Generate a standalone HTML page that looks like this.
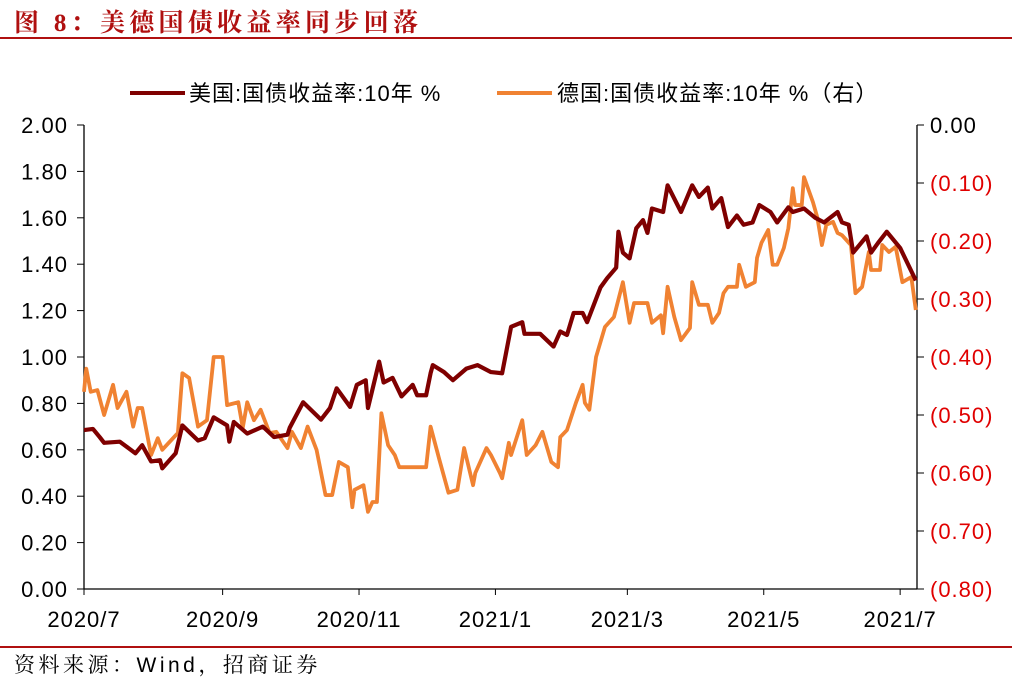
<!DOCTYPE html>
<html><head><meta charset="utf-8">
<style>
body{margin:0;background:#fff;width:1012px;height:675px;overflow:hidden;font-family:"Liberation Sans","Noto Sans CJK SC",sans-serif;}
#title{position:absolute;left:14px;top:3px;font-size:25px;font-weight:bold;color:#b01010;font-family:"Liberation Serif","Noto Serif CJK SC",serif;letter-spacing:4.3px}
#src{position:absolute;left:14px;top:649px;font-size:21px;color:#000;font-family:"Liberation Sans","Noto Serif CJK SC",serif;letter-spacing:3.5px}
svg text{letter-spacing:1px}
</style></head><body>
<div id="title">图 8：美德国债收益率同步回落</div>
<div style="position:absolute;left:0;top:37px;width:1012px;height:2px;background:#b01010"></div>
<div style="position:absolute;left:0;top:646px;width:1012px;height:2px;background:#b01010"></div>
<div id="src">资料来源：Wind，招商证券</div>
<svg id="chart" width="1012" height="675" style="position:absolute;left:0;top:0"></svg>
<script>
const usDays=[0,4,7,9,16,23,26,30,34,35,41,44,51,54,58,64,65,67,73,80,85,91,92,98,106,110,113,119,122,126,127,132,134,138,142,147,149,153,155,156,161,165,171,176,182,187,191,196,197,204,210,213,216,219,223,225,231,234,238,239,241,244,247,250,252,254,259,261,267,272,275,279,281,285,288,292,295,299,302,307,310,315,317,322,327,331,337,339,342,344,350,352,355,359,365,372];
const usVals=[0.685,0.69,0.655,0.63,0.635,0.585,0.62,0.55,0.555,0.52,0.585,0.705,0.64,0.65,0.74,0.705,0.635,0.72,0.67,0.70,0.655,0.665,0.695,0.805,0.73,0.78,0.865,0.785,0.88,0.90,0.78,0.98,0.89,0.91,0.83,0.88,0.835,0.835,0.93,0.965,0.935,0.90,0.95,0.965,0.935,0.93,1.13,1.15,1.10,1.10,1.045,1.11,1.095,1.19,1.19,1.15,1.30,1.34,1.385,1.54,1.45,1.425,1.555,1.59,1.535,1.64,1.625,1.74,1.625,1.74,1.69,1.73,1.64,1.685,1.56,1.61,1.57,1.58,1.655,1.625,1.58,1.645,1.625,1.64,1.60,1.58,1.625,1.58,1.57,1.45,1.52,1.45,1.49,1.54,1.47,1.33];
const deDays=[0,1,3,6,9,13,15,19,22,24,26,30,33,35,42,44,47,51,55,58,62,64,69,71,73,76,79,83,86,91,93,97,100,104,108,111,113,114,118,120,121,125,127,129,131,133,136,139,141,153,155,159,163,167,170,174,175,180,182,186,187,190,191,196,198,202,205,209,212,213,216,220,223,224,226,229,233,237,241,244,246,252,254,258,259,261,264,267,271,272,275,279,281,284,286,288,292,293,296,300,301,303,306,308,310,313,315,317,318,321,322,326,328,330,332,335,337,339,343,345,348,351,352,356,357,360,363,366,370,372];
const deVals=[-0.46,-0.42,-0.46,-0.457,-0.50,-0.448,-0.488,-0.46,-0.52,-0.488,-0.488,-0.569,-0.54,-0.56,-0.531,-0.428,-0.436,-0.52,-0.509,-0.40,-0.40,-0.483,-0.478,-0.522,-0.478,-0.509,-0.491,-0.531,-0.529,-0.557,-0.529,-0.557,-0.52,-0.56,-0.638,-0.638,-0.60,-0.581,-0.59,-0.659,-0.629,-0.621,-0.667,-0.65,-0.65,-0.497,-0.552,-0.569,-0.59,-0.59,-0.52,-0.578,-0.634,-0.629,-0.557,-0.621,-0.60,-0.557,-0.569,-0.60,-0.609,-0.548,-0.569,-0.509,-0.569,-0.552,-0.529,-0.581,-0.59,-0.538,-0.526,-0.479,-0.448,-0.479,-0.491,-0.40,-0.348,-0.331,-0.271,-0.341,-0.307,-0.307,-0.341,-0.328,-0.359,-0.279,-0.331,-0.371,-0.35,-0.271,-0.31,-0.31,-0.341,-0.324,-0.29,-0.279,-0.279,-0.241,-0.279,-0.271,-0.229,-0.203,-0.181,-0.241,-0.241,-0.212,-0.178,-0.109,-0.138,-0.138,-0.09,-0.133,-0.16,-0.207,-0.172,-0.167,-0.186,-0.19,-0.207,-0.29,-0.279,-0.219,-0.25,-0.25,-0.207,-0.219,-0.21,-0.271,-0.262,-0.319];
const leftTicks=[0,0.2,0.4,0.6,0.8,1.0,1.2,1.4,1.6,1.8,2.0];
const rightTicks=[0,-0.1,-0.2,-0.3,-0.4,-0.5,-0.6,-0.7,-0.8];
const xTickDays=[0,62,123,184,243,304,365];
const xTickLabels=["2020/7","2020/9","2020/11","2021/1","2021/3","2021/5","2021/7"];

const X0=84,X1=917,Y0=589,Y1=125;
const xs=d=>X0+d*2.236;
const yL=v=>Y0-(v/2)*(Y0-Y1);
const yR=v=>Y1+(v/-0.8)*(Y0-Y1);
const svg=document.getElementById('chart');
const NS='http://www.w3.org/2000/svg';
function mk(t,a){const e=document.createElementNS(NS,t);for(const k in a)e.setAttribute(k,a[k]);svg.appendChild(e);return e;}
let e;
e=mk('line',{x1:X0,y1:Y1,x2:X0,y2:Y0,stroke:'#000','stroke-width':1.3});


e=mk('line',{x1:X1,y1:Y1,x2:X1,y2:Y0,stroke:'#000','stroke-width':1.3});


e=mk('line',{x1:X0,y1:Y0,x2:X1,y2:Y0,stroke:'#000','stroke-width':1.3});


leftTicks.forEach(v=>{
  mk('line',{x1:X0-7,y1:yL(v),x2:X0,y2:yL(v),stroke:'#000'});
  e=mk('text',{x:68,y:yL(v)+8,'text-anchor':'end','font-size':22,fill:'#000'});
  e.textContent=v.toFixed(2);
  
  
});
rightTicks.forEach(v=>{
  mk('line',{x1:X1,y1:yR(v),x2:X1+7,y2:yR(v),stroke:'#000'});
  e=mk('text',{x:930,y:yR(v)+8,'font-size':22,fill:v<0?'#e00000':'#000'});
  e.textContent=v<0?'('+Math.abs(v).toFixed(2)+')':'0.00';
  
  
});
xTickDays.forEach((d,i)=>{
  mk('line',{x1:xs(d),y1:Y0,x2:xs(d),y2:Y0+6,stroke:'#000'});
  e=mk('text',{x:xs(d),y:627,'text-anchor':'middle','font-size':22,fill:'#000'});
  e.textContent=xTickLabels[i];
  
  
});
e=mk('polyline',{points:deDays.map((d,i)=>xs(d)+','+yR(deVals[i])).join(' '),fill:'none',stroke:'#f08232','stroke-width':3.8,'stroke-linejoin':'round'});


e=mk('polyline',{points:usDays.map((d,i)=>xs(d)+','+yL(usVals[i])).join(' '),fill:'none',stroke:'#7f0000','stroke-width':4.2,'stroke-linejoin':'round'});


e=mk('line',{x1:130,y1:93,x2:185,y2:93,stroke:'#7f0000','stroke-width':4});


e=mk('text',{x:189,y:101,'font-size':22,fill:'#000'});
e.textContent='美国:国债收益率:10年 %';


e=mk('line',{x1:497,y1:93,x2:552,y2:93,stroke:'#f08232','stroke-width':4});


e=mk('text',{x:557,y:101,'font-size':22,fill:'#000'});
e.textContent='德国:国债收益率:10年 %（右）';


</script>
</body></html>
